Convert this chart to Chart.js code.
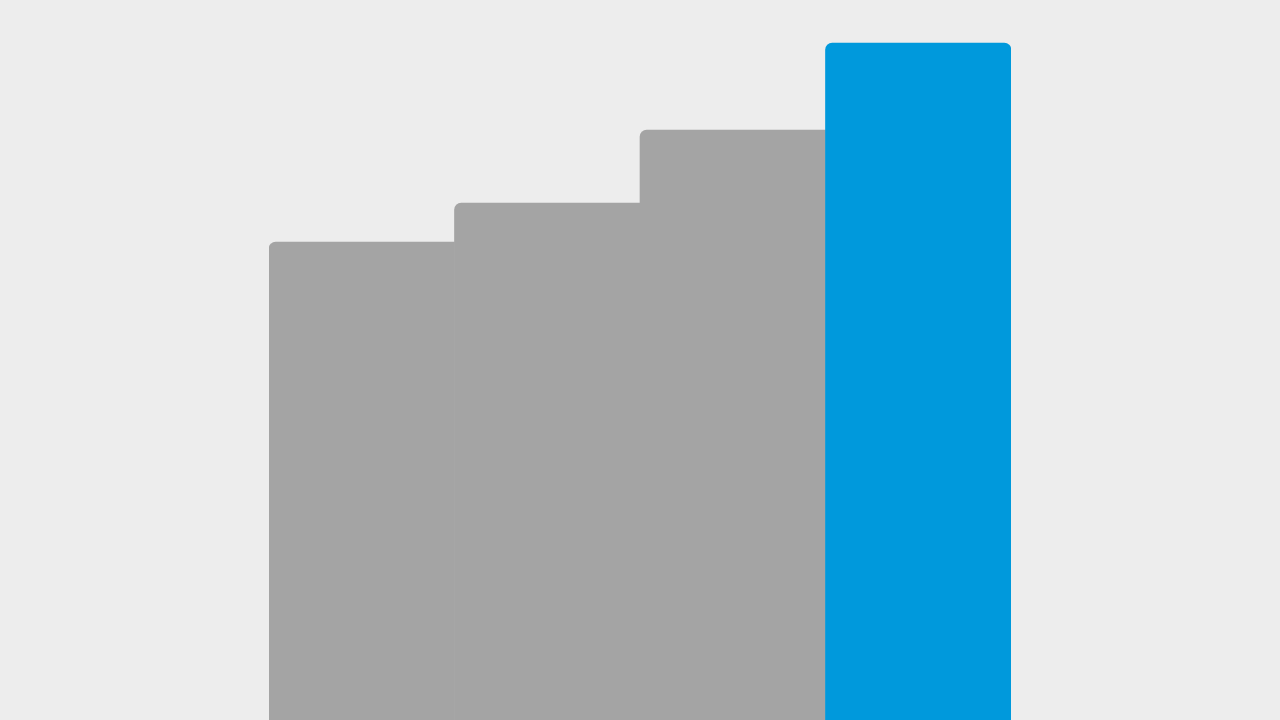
<!DOCTYPE html>
<html>
<head>
<meta charset="utf-8">
<script src="https://cdn.jsdelivr.net/npm/chart.js@4/dist/chart.umd.min.js"></script>
<style>
  html, body { margin: 0; padding: 0; background: #ededed; }
  #wrap { width: 1280px; height: 720px; position: relative; }
</style>
</head>
<body>
<div id="wrap"><canvas id="c" width="1280" height="720"></canvas></div>
<script>
const categories = ["A", "B", "C", "D"];
const values = [478, 517, 590, 677];
const barColors = ["#a4a4a4", "#a4a4a4", "#a4a4a4", "#0099dc"];
const yMin = 0;
const yMax = 720;

new Chart(document.getElementById("c"), {
  type: "bar",
  data: {
    labels: categories,
    datasets: [{
      data: values,
      backgroundColor: barColors,
      borderWidth: 0,
      borderRadius: (ctx) => {
        const last = ctx.dataIndex === values.length - 1;
        return { topLeft: 7, topRight: last ? 7 : 0, bottomLeft: 0, bottomRight: 0 };
      },
      borderSkipped: false,
      barPercentage: 1.0,
      categoryPercentage: 1.0
    }]
  },
  options: {
    responsive: false,
    animation: false,
    layout: { padding: { left: 269, right: 269, top: 0, bottom: 0 } },
    plugins: { legend: { display: false }, tooltip: { enabled: false } },
    scales: {
      x: { display: false },
      y: { display: false, min: yMin, max: yMax }
    }
  }
});
</script>
</body>
</html>
